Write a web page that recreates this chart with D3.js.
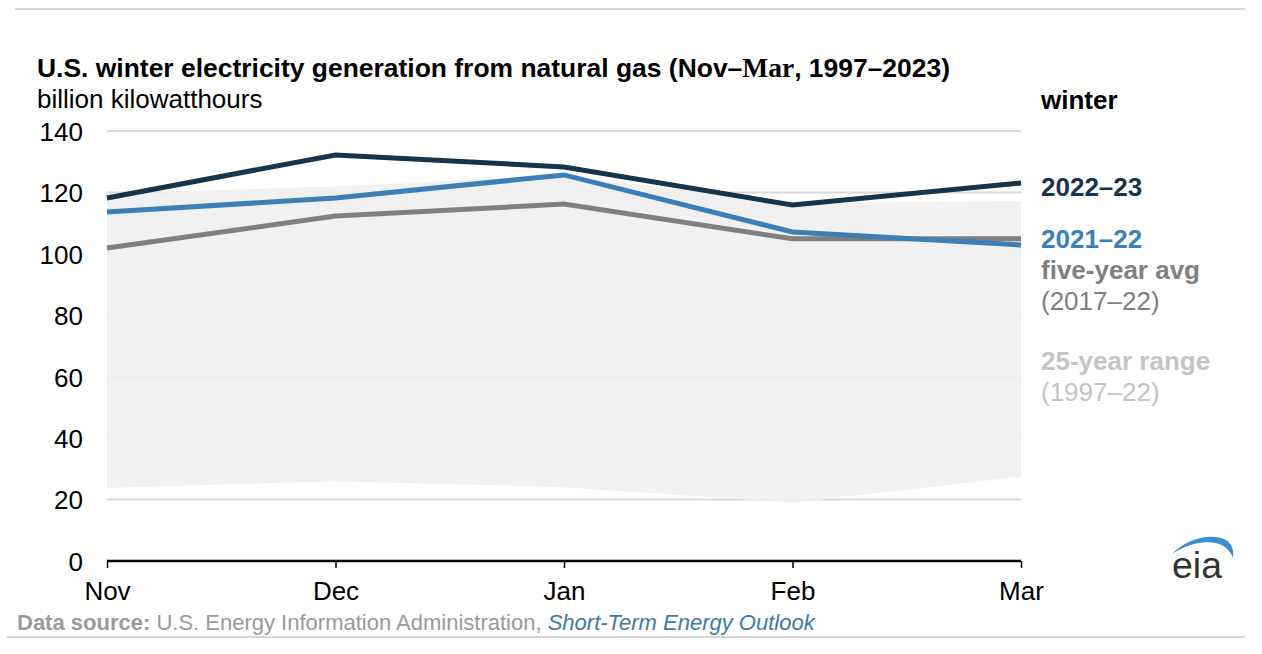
<!DOCTYPE html>
<html>
<head>
<meta charset="utf-8">
<script src="https://cdn.jsdelivr.net/npm/d3@7"></script>
<style>
  body { margin: 0; background: #fff; }
  svg { font-family: "Liberation Sans", Arial, sans-serif; }
</style>
</head>
<body>
<svg id="chart" width="1262" height="654"></svg>
<script>
const months = ["Nov", "Dec", "Jan", "Feb", "Mar"];
const winter2223 = [118.2, 132.2, 128.3, 115.9, 123.1];
const winter2122 = [113.6, 118.2, 125.7, 107.1, 102.9];
const fiveYearAvg = [101.9, 112.3, 116.2, 104.9, 104.9];
const rangeHigh = [119.5, 122, 125.5, 116.5, 117.2];
const rangeLow = [23.8, 26, 24, 19, 27.5];
const yTicks = [0, 20, 40, 60, 80, 100, 120, 140];

const svg = d3.select("#chart");

const xScale = d3.scalePoint()
    .domain(months)
    .range([107, 1021]);

const yScale = d3.scaleLinear()
    .domain([0, 140])
    .range([561, 131]);

// frame lines top and bottom
svg.append("line")
    .attr("x1", 15).attr("x2", 1245).attr("y1", 9).attr("y2", 9)
    .attr("stroke", "#d6d6d6").attr("stroke-width", 2);
svg.append("line")
    .attr("x1", 7).attr("x2", 1245).attr("y1", 637).attr("y2", 637)
    .attr("stroke", "#d6d6d6").attr("stroke-width", 2);

// title
const title = svg.append("text")
    .attr("x", 37).attr("y", 77)
    .attr("font-size", 26).attr("font-weight", "bold").attr("fill", "#000")
    .attr("textLength", 913).attr("lengthAdjust", "spacingAndGlyphs");
title.append("tspan").text("U.S. winter electricity generation from natural gas (Nov–");
title.append("tspan").attr("font-family", "Liberation Serif").attr("font-size", 27).text("Mar");
title.append("tspan").text(", 1997–2023)");

svg.append("text")
    .attr("x", 37).attr("y", 108)
    .attr("font-size", 26).attr("fill", "#000")
    .text("billion kilowatthours");

// gridlines
svg.append("g")
    .selectAll("line")
    .data(yTicks.filter(d => d > 0))
    .join("line")
    .attr("x1", 107).attr("x2", 1021)
    .attr("y1", d => yScale(d)).attr("y2", d => yScale(d))
    .attr("stroke", "#d9d9d9").attr("stroke-width", 2);

// 25-year range band
const band = d3.area()
    .x((d, i) => xScale(months[i]))
    .y0((d, i) => yScale(rangeLow[i]))
    .y1(d => yScale(d));

svg.append("path")
    .datum(rangeHigh)
    .attr("d", band)
    .attr("fill", "#f0f0f0")
    .attr("fill-opacity", 0.92);

// y axis labels
const yAxis = d3.axisLeft(yScale).tickValues(yTicks).tickSize(0).tickPadding(0);
const yG = svg.append("g")
    .attr("transform", "translate(83,0)")
    .call(yAxis);
yG.select(".domain").remove();
yG.selectAll("text")
    .attr("font-size", 26).attr("fill", "#000")
    .attr("font-family", "Liberation Sans, Arial, sans-serif")
    .attr("dy", "0.36em");

// x axis
const xAxis = d3.axisBottom(xScale).tickSize(7).tickPadding(14);
const xG = svg.append("g")
    .attr("transform", "translate(0,561)")
    .call(xAxis);
xG.select(".domain").attr("stroke", "#000").attr("stroke-width", 2.5)
    .attr("d", "M107,0H1021");
xG.selectAll(".tick line").attr("stroke", "#000").attr("stroke-width", 1.5);
xG.selectAll("text")
    .attr("font-size", 26).attr("fill", "#000")
    .attr("font-family", "Liberation Sans, Arial, sans-serif");

// lines
const myLine = d3.line()
    .x((d, i) => xScale(months[i]))
    .y(d => yScale(d));

const series = [
    { values: fiveYearAvg, color: "#808080" },
    { values: winter2122, color: "#3b7fb6" },
    { values: winter2223, color: "#17344d" }
];

svg.selectAll(".series")
    .data(series)
    .join("path")
    .attr("class", "series")
    .attr("d", d => myLine(d.values))
    .attr("fill", "none")
    .attr("stroke", d => d.color)
    .attr("stroke-width", 5);

// legend labels
const legend = [
    { text: "winter", y: 109, color: "#000", weight: "bold" },
    { text: "2022–23", y: 196, color: "#17344d", weight: "bold" },
    { text: "2021–22", y: 248, color: "#3b7fb6", weight: "bold" },
    { text: "five-year avg", y: 279, color: "#808080", weight: "bold" },
    { text: "(2017–22)", y: 310, color: "#808080", weight: "normal" },
    { text: "25-year range", y: 370, color: "#c4c4c4", weight: "bold" },
    { text: "(1997–22)", y: 401, color: "#c4c4c4", weight: "normal" }
];

svg.append("g")
    .selectAll("text")
    .data(legend)
    .join("text")
    .attr("x", 1041)
    .attr("y", d => d.y)
    .attr("font-size", 26)
    .attr("font-weight", d => d.weight)
    .attr("fill", d => d.color)
    .text(d => d.text);

// source note
const src = svg.append("text")
    .attr("x", 17).attr("y", 630)
    .attr("font-size", 22).attr("fill", "#9a9a9a");
src.append("tspan").attr("font-weight", "bold").text("Data source: ");
src.append("tspan").text("U.S. Energy Information Administration, ");
src.append("tspan").attr("font-style", "italic").attr("fill", "#3f7aa6").text("Short-Term Energy Outlook");

// eia logo
const logo = svg.append("g").attr("transform", "translate(1150,520)");
logo.append("path")
    .attr("d", "M22,34 C35,20 60,12 76,20 C82,24 84,30 83,38 C80,30 74,25 66,23 C52,20 35,25 22,34 Z")
    .attr("fill", "#3b8fd0");
logo.append("text")
    .attr("x", 22).attr("y", 58)
    .attr("font-size", 36)
    .attr("fill", "#333")
    .attr("textLength", 50).attr("lengthAdjust", "spacingAndGlyphs")
    .text("eia");
</script>
</body>
</html>
